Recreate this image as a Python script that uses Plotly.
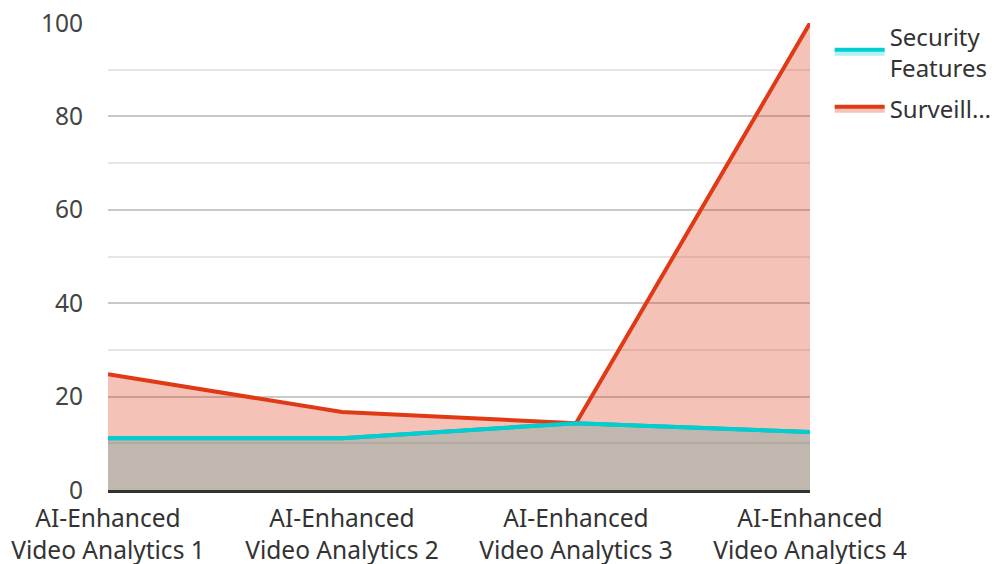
import plotly.graph_objects as go

categories = ["AI-Enhanced<br>Video Analytics 1", "AI-Enhanced<br>Video Analytics 2",
              "AI-Enhanced<br>Video Analytics 3", "AI-Enhanced<br>Video Analytics 4"]
security_features = [11.1, 11.1, 14.3, 12.4]
surveillance = [24.8, 16.7, 14.3, 100]
series_names = ["Security<br>Features", "Surveill…"]

cyan = "rgb(0,206,209)"
red = "rgb(224,57,22)"

fig = go.Figure()
fig.add_trace(go.Scatter(
    x=categories, y=security_features, name=series_names[0], mode="lines",
    legendgroup="a",
    line=dict(color=cyan, width=4), fill="tozeroy",
    fillcolor="rgba(0,206,209,0.3)"))
fig.add_trace(go.Scatter(
    x=categories, y=surveillance, name=series_names[1], mode="lines",
    legendgroup="b",
    line=dict(color=red, width=4), fill="tozeroy",
    fillcolor="rgba(224,57,26,0.31)"))
# cyan line redrawn on top of the red fill
fig.add_trace(go.Scatter(
    x=categories, y=security_features, mode="lines", showlegend=False,
    legendgroup="a",
    line=dict(color=cyan, width=4), hoverinfo="skip"))

fig.update_layout(
    width=1000, height=564,
    margin=dict(l=100, r=198, t=15, b=82, autoexpand=False),
    paper_bgcolor="white", plot_bgcolor="white",
    font=dict(family="Noto Sans", size=24.5, color="#3a3a3a"),
    showlegend=True,
    legend=dict(x=1.028, y=1.019, xanchor="left", yanchor="top",
                font=dict(size=24, color="#333"), tracegroupgap=7,
                traceorder="grouped", itemwidth=50),
)
fig.update_xaxes(type="category", range=[0, 3], showgrid=False,
                 showline=True, linecolor="#333", linewidth=2.5,
                 tickfont=dict(size=24.5, color="#333"), ticks="",
                 ticklabelstandoff=5)
fig.update_yaxes(range=[0, 100], dtick=20, showgrid=True, gridcolor="#c8c8c8",
                 gridwidth=2, zeroline=False, showline=False,
                 minor=dict(dtick=10, showgrid=True, gridcolor="#e6e6e6", gridwidth=2),
                 ticklabelstandoff=24, ticklabeloverflow="allow",
                 tickfont=dict(size=24.5, color="#444"))

fig.write_html("out.html")
